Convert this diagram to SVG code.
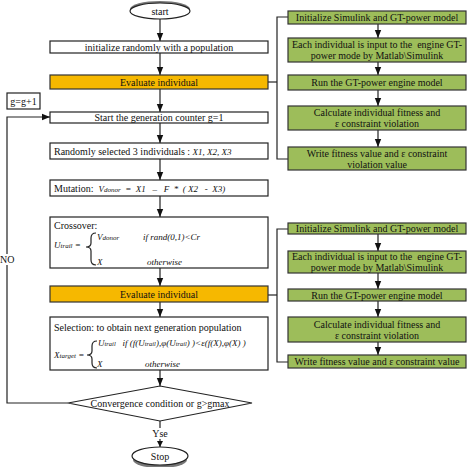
<svg xmlns="http://www.w3.org/2000/svg" width="474" height="467" viewBox="0 0 474 467">
<style>
.box{fill:#fff;stroke:#222;stroke-width:1.2}
.ora{fill:#f6b800;stroke:#333;stroke-width:1.2}
.grn{fill:#9dbd5a;stroke:#333;stroke-width:1.2}
.ln{fill:none;stroke:#222;stroke-width:1.2}
.t{font-family:"Liberation Serif","Times New Roman",serif;font-size:10px;fill:#111}
.c{text-anchor:middle}
.m{font-family:"Liberation Serif","Times New Roman",serif;font-style:italic;font-size:9px;fill:#111}
.g{font-family:"Liberation Serif","Times New Roman",serif;font-size:10px;fill:#111;text-anchor:middle}
</style>
<defs>
<marker id="ah" viewBox="0 0 10 10" refX="10" refY="5" markerWidth="6" markerHeight="6" markerUnits="userSpaceOnUse" orient="auto">
<path d="M0,0 L10,5 L0,10 z" fill="#111"/>
</marker>
<marker id="ahl" viewBox="0 0 10 10" refX="10" refY="5" markerWidth="8" markerHeight="8" markerUnits="userSpaceOnUse" orient="auto">
<path d="M0,1 L10,5 L0,9 z" fill="#111"/>
</marker>
</defs>

<g id="connectors">
<line class="ln" x1="160" y1="18" x2="160" y2="41" marker-end="url(#ahl)"/>
<line class="ln" x1="160" y1="53" x2="160" y2="75" marker-end="url(#ahl)"/>
<line class="ln" x1="160" y1="89" x2="160" y2="112" marker-end="url(#ahl)"/>
<line class="ln" x1="160" y1="123" x2="160" y2="143" marker-end="url(#ahl)"/>
<line class="ln" x1="160" y1="159" x2="160" y2="180" marker-end="url(#ahl)"/>
<line class="ln" x1="160" y1="196" x2="160" y2="217" marker-end="url(#ahl)"/>
<line class="ln" x1="160" y1="268" x2="160" y2="286" marker-end="url(#ahl)"/>
<line class="ln" x1="160" y1="302" x2="160" y2="317" marker-end="url(#ahl)"/>
<line class="ln" x1="160" y1="370" x2="160" y2="386" marker-end="url(#ahl)"/>
<line class="ln" x1="160" y1="421" x2="160" y2="428"/>
<line class="ln" x1="160" y1="439" x2="160" y2="447" marker-end="url(#ah)"/>
<polyline class="ln" points="68,403 7,403 7,117 50,117" marker-end="url(#ahl)"/>
<polyline class="ln" points="288,17 277,17 277,159 288,159"/>
<line class="ln" x1="268" y1="82" x2="277" y2="82"/>
<line class="ln" x1="378" y1="24" x2="378" y2="38" marker-end="url(#ahl)"/>
<line class="ln" x1="378" y1="62" x2="378" y2="75" marker-end="url(#ahl)"/>
<line class="ln" x1="378" y1="90" x2="378" y2="106" marker-end="url(#ahl)"/>
<line class="ln" x1="378" y1="130" x2="378" y2="147" marker-end="url(#ahl)"/>
<polyline class="ln" points="288,229 277,229 277,362 288,362"/>
<line class="ln" x1="268" y1="295" x2="277" y2="295"/>
<line class="ln" x1="378" y1="234" x2="378" y2="251" marker-end="url(#ahl)"/>
<line class="ln" x1="378" y1="273" x2="378" y2="289" marker-end="url(#ahl)"/>
<line class="ln" x1="378" y1="301" x2="378" y2="317" marker-end="url(#ahl)"/>
<line class="ln" x1="378" y1="342" x2="378" y2="355" marker-end="url(#ahl)"/>
</g>

<g id="start">
<ellipse cx="160" cy="9" rx="30" ry="8" fill="#777"/>
<ellipse cx="160" cy="11" rx="30" ry="8" class="box"/>
<text class="t c" x="160" y="14.5">start</text>
</g>
<g id="init">
<rect class="box" x="50" y="41" width="218" height="12"/>
<text class="t c" x="159" y="50.5">initialize randomly with a population</text>
</g>
<g id="eval1">
<rect class="ora" x="50" y="75" width="218" height="14"/>
<text class="t c" x="159" y="85.5">Evaluate individual</text>
</g>
<g id="ginc">
<rect class="box" x="7" y="93" width="33" height="16"/>
<text class="t c" x="23.5" y="104.5">g=g+1</text>
</g>
<g id="counter">
<rect class="box" x="50" y="112" width="218" height="11"/>
<text class="t c" x="159" y="121">Start the generation counter g=1</text>
</g>
<g id="random">
<rect class="box" x="50" y="143" width="218" height="16"/>
<text class="t" x="54" y="154.5">Randomly selected 3  individuals : <tspan class="m">X1, X2, X3</tspan></text>
</g>
<g id="mutation">
<rect class="box" x="50" y="180" width="218" height="16"/>
<text class="t" x="54" y="191.5" xml:space="preserve">Mutation:  <tspan class="m">V<tspan font-size="7">donor</tspan>  =  X1   –   F  *  ( X2   -  X3)</tspan></text>
</g>
<g id="crossover">
<rect class="box" x="50" y="217" width="218" height="51"/>
<text class="t" x="54" y="229">Crossover:</text>
<text class="m" x="54" y="248">U<tspan font-size="7">trail</tspan> =</text>
<path class="ln" d="M96,233 Q91,233 91,238 L91,243 Q91,247 86,247 Q91,247 91,251 L91,260 Q91,265 96,265" stroke-width="1"/>
<text class="m" x="97" y="240">V<tspan font-size="7">donor</tspan></text>
<text class="m" x="143" y="240">if rand(0,1)&lt;Cr</text>
<text class="m" x="97" y="265">X</text>
<text class="m" x="147" y="265">otherwise</text>
</g>
<g id="eval2">
<rect class="ora" x="50" y="286" width="218" height="16"/>
<text class="t c" x="159" y="297.5">Evaluate individual</text>
</g>
<g id="selection">
<rect class="box" x="50" y="317" width="218" height="53"/>
<text class="t" x="54" y="331">Selection: to obtain next generation population</text>
<text class="m" x="54" y="358">X<tspan font-size="7">target</tspan> =</text>
<path class="ln" d="M97,341 Q92,341 92,346 L92,351 Q92,355 87,355 Q92,355 92,359 L92,363 Q92,368 97,368" stroke-width="1"/>
<text class="m" x="98" y="346" font-size="8" xml:space="preserve">U<tspan font-size="6.5">trail</tspan>   if (f(U<tspan font-size="6.5">trail</tspan>),φ(U<tspan font-size="6.5">trail</tspan>) )&lt;ε(f(X),φ(X) )</text>
<text class="m" x="97" y="367">X</text>
<text class="m" x="145" y="367">otherwise</text>
</g>
<g id="decision">
<polygon class="box" points="160,386 252,403 160,421 68,403"/>
<text class="t c" x="160" y="406.5">Convergence condition or g&gt;gmax</text>
</g>
<g id="labels">
<rect x="0" y="254" width="14" height="11" fill="#fff"/>
<text class="t" x="0" y="263">NO</text>
<text class="t c" x="160" y="437">Yse</text>
</g>
<g id="stop">
<ellipse cx="160" cy="460" rx="27" ry="8" fill="#777"/>
<ellipse cx="160" cy="456" rx="28" ry="9" class="box"/>
<text class="t c" x="160" y="460">Stop</text>
</g>

<g id="sim1a"><rect class="grn" x="288" y="11" width="178" height="13"/><text class="g" x="377" y="21">Initialize Simulink and GT-power model</text></g>
<g id="sim1b"><rect class="grn" x="288" y="38" width="178" height="24"/><text class="g" x="377" y="48" xml:space="preserve">Each individual is input to the  engine GT-</text><text class="g" x="377" y="59">power mode by Matlab\Simulink</text></g>
<g id="sim1c"><rect class="grn" x="288" y="75" width="178" height="15"/><text class="g" x="377" y="86">Run the GT-power engine model</text></g>
<g id="sim1d"><rect class="grn" x="288" y="106" width="178" height="24"/><text class="g" x="377" y="116">Calculate individual fitness and</text><text class="g" x="377" y="127">ε constraint violation</text></g>
<g id="sim1e"><rect class="grn" x="288" y="147" width="178" height="23"/><text class="g" x="377" y="157">Write fitness value and ε constraint</text><text class="g" x="377" y="168">violation value</text></g>

<g id="sim2a"><rect class="grn" x="288" y="223" width="178" height="11"/><text class="g" x="377" y="232">Initialize Simulink and GT-power model</text></g>
<g id="sim2b"><rect class="grn" x="288" y="251" width="178" height="22"/><text class="g" x="377" y="260" xml:space="preserve">Each individual is input to the  engine GT-</text><text class="g" x="377" y="271">power mode by Matlab\Simulink</text></g>
<g id="sim2c"><rect class="grn" x="288" y="289" width="178" height="12"/><text class="g" x="377" y="298.5">Run the GT-power engine model</text></g>
<g id="sim2d"><rect class="grn" x="288" y="317" width="178" height="25"/><text class="g" x="377" y="327.5">Calculate individual fitness and</text><text class="g" x="377" y="338.5">ε constraint violation</text></g>
<g id="sim2e"><rect class="grn" x="288" y="355" width="178" height="13"/><text class="g" x="377" y="365">Write fitness value and ε constraint value</text></g>
</svg>
